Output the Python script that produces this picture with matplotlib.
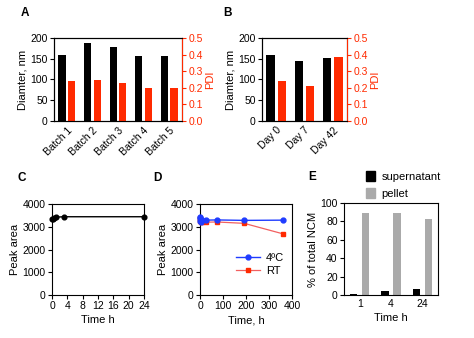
import matplotlib
matplotlib.use("Agg")
import matplotlib.pyplot as plt
import numpy as np
from matplotlib.patches import Patch

plt.rcParams['font.family'] = ['Liberation Sans', 'DejaVu Sans']
plt.rcParams['font.size'] = 7

RED = '#ff2a00'
BLUE = '#1f3cff'
GRAY = '#aaaaaa'

# Panel A
batches = ['Batch 1', 'Batch 2', 'Batch 3', 'Batch 4', 'Batch 5']
batch_diam = [158, 187, 178, 157, 156]
batch_pdi = [0.24, 0.245, 0.227, 0.2, 0.197]

# Panel B
days = ['Day 0', 'Day 7', 'Day 42']
day_diam = [158, 145, 153]
day_pdi = [0.24, 0.21, 0.385]

# Panel C
c_time = [0, 0.25, 0.5, 1, 3, 24]
c_area = [3330, 3340, 3370, 3420, 3440, 3440]

# Panel D
d_time_4c = [0, 1, 2, 4, 8, 24, 72, 192, 360]
d_area_4c = [3420, 3380, 3260, 3200, 3280, 3290, 3300, 3280, 3290]
d_time_rt = [0, 1, 2, 4, 8, 24, 72, 192, 360]
d_area_rt = [3400, 3350, 3250, 3200, 3220, 3200, 3210, 3150, 2690]

# Panel E
e_time = ['1', '4', '24']
e_super = [1.5, 4.5, 6.0]
e_pellet = [89, 89, 83]

W, H = 474, 338
fig = plt.figure(figsize=(W / 100, H / 100), dpi=100)


def ax_px(x0, y0, x1, y1):
    return fig.add_axes([x0 / W, 1 - y1 / H, (x1 - x0) / W, (y1 - y0) / H])


def style(ax):
    ax.tick_params(direction='out', length=3, width=0.8, pad=1.5, labelsize=7.5)
    for s in ax.spines.values():
        s.set_linewidth(0.8)


def label(x, y, t):
    fig.text(x / W, 1 - y / H, t, fontsize=8.5, fontweight='bold', ha='center', va='center')


def dual_bar(ax, cats, diam, pdi, width, off):
    x = np.arange(len(cats))
    ax.bar(x - off, diam, width=width, color='black')
    ax.set_ylim(0, 200)
    ax.set_yticks([0, 50, 100, 150, 200])
    ax.set_xlim(-0.5, len(cats) - 0.5)
    ax.set_xticks(x)
    ax.set_xticklabels(cats, rotation=45, ha='right', rotation_mode='anchor')
    ax.set_ylabel('Diamter, nm', fontsize=8, labelpad=2)
    style(ax)
    ax.tick_params(axis='x', length=0, pad=3)
    ax2 = ax.twinx()
    ax2.bar(x + off, pdi, width=width, color=RED)
    ax2.set_ylim(0, 0.5)
    ax2.set_yticks([0, 0.1, 0.2, 0.3, 0.4, 0.5])
    ax2.set_yticklabels(['0.0', '0.1', '0.2', '0.3', '0.4', '0.5'])
    ax2.set_ylabel('PDI', color=RED, fontsize=8, labelpad=2)
    style(ax2)
    ax2.tick_params(axis='y', colors=RED)
    ax2.spines['right'].set_color(RED)
    return ax2


axA = ax_px(54, 38, 182, 121)
dual_bar(axA, batches, batch_diam, batch_pdi, 0.28, 0.19)
label(25, 13, 'A')

axB = ax_px(262, 38, 347, 121)
dual_bar(axB, days, day_diam, day_pdi, 0.3, 0.2)
label(228, 13, 'B')

# Panel C
axC = ax_px(52, 204, 144, 295)
axC.plot(c_time, c_area, color='black', marker='o', markersize=3.4, linewidth=1, clip_on=False, zorder=3)
axC.set_xlim(0, 24)
axC.set_xticks([0, 4, 8, 12, 16, 20, 24])
axC.set_ylim(0, 4000)
axC.set_yticks([0, 1000, 2000, 3000, 4000])
axC.set_xlabel('Time h', fontsize=8, labelpad=3)
axC.set_ylabel('Peak area', fontsize=8, labelpad=2)
style(axC)
label(22, 178, 'C')

# Panel D
axD = ax_px(200, 204, 292, 295)
axD.plot(d_time_rt, d_area_rt, color='#f26060', marker='s', markersize=2.8,
         markerfacecolor=RED, markeredgecolor=RED, linewidth=0.9, clip_on=False, zorder=3, label='RT')
axD.plot(d_time_4c, d_area_4c, color=BLUE, marker='o', markersize=3.5,
         linewidth=1, clip_on=False, zorder=4, label='4ºC')
axD.set_xlim(0, 400)
axD.set_xticks([0, 100, 200, 300, 400])
axD.set_ylim(0, 4000)
axD.set_yticks([0, 1000, 2000, 3000, 4000])
axD.set_xlabel('Time, h', fontsize=8, labelpad=3)
axD.set_ylabel('Peak area', fontsize=8, labelpad=2)
style(axD)
h, l = axD.get_legend_handles_labels()
axD.legend([h[1], h[0]], [l[1], l[0]], loc='lower right', bbox_to_anchor=(1.0, 0.12),
           frameon=False, fontsize=8, handlelength=2.2, handletextpad=0.5,
           labelspacing=0.3, borderaxespad=0.3)
label(157, 178, 'D')

# Panel E
axE = ax_px(344, 203, 438, 295)
xe = np.arange(len(e_time))
axE.bar(xe - 0.19, e_super, width=0.23, color='black')
axE.bar(xe + 0.19, e_pellet, width=0.23, color=GRAY)
axE.set_xlim(-0.5, len(e_time) - 0.5)
axE.set_xticks(xe)
axE.set_xticklabels(e_time)
axE.set_ylim(0, 100)
axE.set_yticks([0, 20, 40, 60, 80, 100])
axE.set_xlabel('Time h', fontsize=8, labelpad=3)
axE.set_ylabel('% of total NCM', fontsize=8, labelpad=2)
style(axE)
axE.tick_params(axis='x', length=0, pad=3)
fig.legend([Patch(color='black'), Patch(color=GRAY)], ['supernatant', 'pellet'],
           loc='upper left', bbox_to_anchor=(362 / W, 1 - 167 / H), frameon=False,
           fontsize=8, handlelength=0.75, handleheight=1.0, handletextpad=0.6,
           labelspacing=0.55, borderaxespad=0)
label(312, 177, 'E')

fig.savefig('out.png', dpi=100)
